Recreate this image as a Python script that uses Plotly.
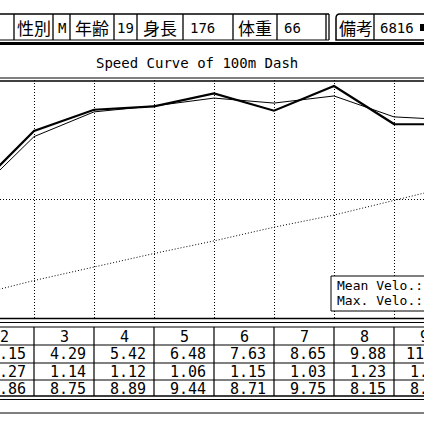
import plotly.graph_objects as go

W = H = 424

# ---------------- data ----------------
segments = ["1", "2", "3", "4", "5", "6", "7", "8", "9"]
distance_m = [10, 20, 30, 40, 50, 60, 70, 80, 90]
cum_time = [1.88, 3.15, 4.29, 5.42, 6.48, 7.63, 8.65, 9.88, 11.11]
split_time = [1.88, 1.27, 1.14, 1.12, 1.06, 1.15, 1.03, 1.23, 1.23]
velocity = [5.32, 7.86, 8.75, 8.89, 9.44, 8.71, 9.75, 8.15, 8.13]
mean_curve = [5.15, 7.62, 8.66, 8.91, 9.24, 9.03, 9.33, 8.45, 8.32]

header_labels = ["性別", "M", "年齢", "19", "身長", "176", "体重", "66"]
remark_label = "備考"
remark_value = "6816"
title_text = "Speed Curve of 100m Dash"
legend_labels = ["Mean Velo.:", "Max. Velo.:"]

MONO = "DejaVu Sans Mono"
CJK = "Noto Sans CJK JP"


def py(p):
    return 1 - p / H


def px(p):
    return p / W


fig = go.Figure()

# cumulative time (dotted, secondary axis)
fig.add_trace(go.Scatter(
    x=[0] + distance_m, y=[0] + cum_time, yaxis="y2", mode="lines",
    line=dict(color="black", width=1, dash="1px,2px"), hoverinfo="skip"))
# mean / fitted velocity (thin)
fig.add_trace(go.Scatter(
    x=distance_m, y=mean_curve, mode="lines",
    line=dict(color="black", width=1), hoverinfo="skip"))
# measured velocity (thick)
fig.add_trace(go.Scatter(
    x=distance_m, y=velocity, mode="lines",
    line=dict(color="black", width=2.2), hoverinfo="skip"))

shapes = []
ann = []


def hline(y, x0=0, x1=W, w=1):
    shapes.append(dict(type="line", xref="paper", yref="paper",
                       x0=px(x0), x1=px(x1), y0=py(y), y1=py(y),
                       line=dict(color="black", width=w)))


def vline(x, y0, y1, w=1):
    shapes.append(dict(type="line", xref="paper", yref="paper",
                       x0=px(x), x1=px(x), y0=py(y0), y1=py(y1),
                       line=dict(color="black", width=w)))


def text(t, x, y, size, font=MONO, anchor="center"):
    ann.append(dict(text=t, xref="paper", yref="paper", x=px(x), y=py(y),
                    xanchor=anchor, yanchor="middle", showarrow=False,
                    font=dict(family=font, size=size, color="black")))


# ---------------- header ----------------
hline(14, 0, 329, 1.5)
hline(40, 0, 329, 1.2)
for xv in [14, 53, 70, 114, 137, 183, 233, 277, 326, 329]:
    vline(xv, 14, 40, 1.3)
hcenters = [34, 62, 92, 125.5, 160, 188, 255, 282]
for lab, xc in zip(header_labels, hcenters):
    if lab in ("176", "66"):
        text(lab, xc, 28, 14, MONO, "left")
    elif lab in ("M", "19"):
        text(lab, xc, 28, 14, MONO)
    else:
        text(lab, xc, 28, 17, CJK)

# remark box with rounded corner
x0p, x1p = px(336), px(430)
yt, yb = py(14), py(40)
r = 4
shapes.append(dict(
    type="path", xref="paper", yref="paper",
    path=(f"M {x1p} {yt} L {px(336 + r)} {yt} Q {x0p} {yt} {x0p} {py(14 + r)} "
          f"L {x0p} {yb} L {x1p} {yb}"),
    line=dict(color="black", width=1.5)))
vline(374, 14, 40, 1.3)
text(remark_label, 356, 28, 17, CJK)
text(remark_value, 378, 28, 14, MONO, "left")
shapes.append(dict(type="rect", xref="paper", yref="paper",
                   x0=px(420), x1=px(424), y0=py(31), y1=py(24),
                   fillcolor="black", line=dict(width=0)))

hline(43.5, 0, W, 3)

# ---------------- title ----------------
text(title_text, 197, 63, 14, MONO)

# ---------------- chart frame ----------------
hline(78, 0, W, 1)
hline(81, 0, W, 1.5)
hline(318.5, 0, W, 1.5)
hline(322.5, 0, W, 1)

# legend box
shapes.append(dict(type="rect", xref="paper", yref="paper", layer="above",
                   x0=px(331), x1=px(440), y0=py(311), y1=py(276),
                   fillcolor="white", line=dict(color="black", width=1)))
text(legend_labels[0], 335, 285, 13, MONO, "left")
text(legend_labels[1], 335, 300, 13, MONO, "left")

# ---------------- table ----------------
hline(327, 0, W, 1)
for yv in [345, 363, 380]:
    hline(yv, 0, W, 1)
hline(396, 0, W, 1.5)
hline(399.5, 0, W, 1)
hline(413, 0, W, 1)
for d in distance_m:
    shapes.append(dict(type="line", xref="x", yref="paper", x0=d, x1=d,
                       y0=py(327), y1=py(396),
                       line=dict(color="black", width=1.2)))

for i, seg in enumerate(segments):
    xc = distance_m[i] - 5
    ann.append(dict(text=seg, xref="x", yref="paper", x=xc, y=py(336.5),
                    showarrow=False, xanchor="center", yanchor="middle",
                    font=dict(family=MONO, size=15, color="black")))
    for val, yy in [(cum_time[i], 354), (split_time[i], 371.5), (velocity[i], 388.5)]:
        ann.append(dict(text=f"{val:.2f}", xref="x", yref="paper", x=xc,
                        y=py(yy), xshift=4, showarrow=False, xanchor="center",
                        yanchor="middle",
                        font=dict(family=MONO, size=15, color="black")))

grid = dict(showgrid=True, gridcolor="black", gridwidth=1, griddash="1px,2px",
            showticklabels=False, ticks="", zeroline=False, showline=False)

fig.update_layout(
    width=W, height=H, margin=dict(l=0, r=0, t=0, b=0, pad=0),
    paper_bgcolor="white", plot_bgcolor="white", showlegend=False,
    xaxis=dict(domain=[0, 1], range=[20 - 34 / 6, 20 + 390 / 6],
               tickvals=distance_m, fixedrange=True, **grid),
    yaxis=dict(domain=[py(318), py(80)], range=[0, 10], tickvals=[5],
               fixedrange=True, **grid),
    yaxis2=dict(overlaying="y", range=[0, 20], visible=False,
                showgrid=False, fixedrange=True),
    shapes=shapes, annotations=ann,
)

fig.write_html("out.html")
